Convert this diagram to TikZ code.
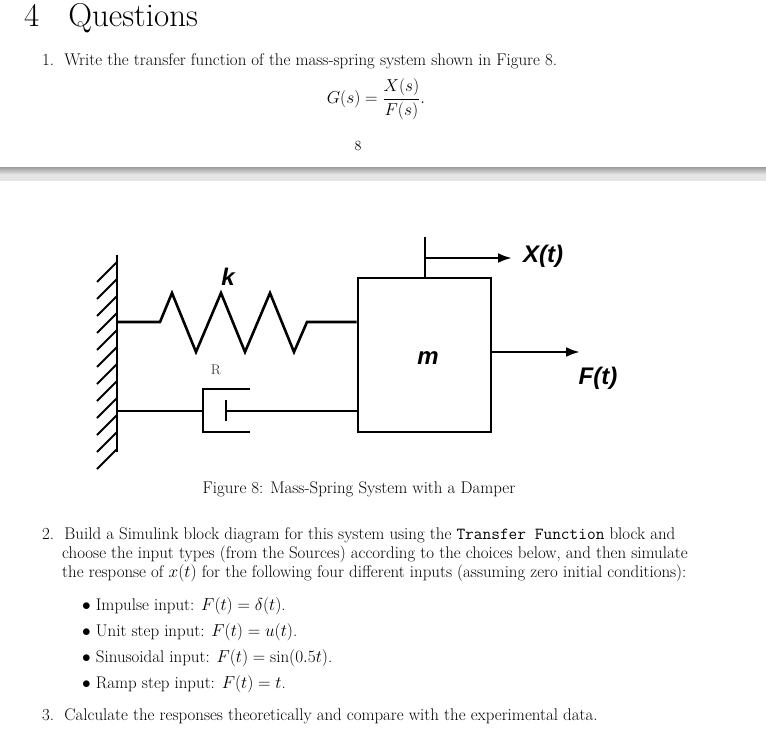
\documentclass[tikz,border=0pt]{standalone}
\usepackage{fontspec}
\usepackage{amsmath}
\newfontfamily\arialf{Liberation Sans}
\begin{document}
\begin{tikzpicture}[x=1pt,y=-1pt,
  txt/.style={anchor=west,inner sep=0pt,font=\fontsize{16.9}{18}\selectfont},
  lab/.style={inner sep=0pt,font=\arialf\bfseries\itshape\fontsize{24}{24}\selectfont},
  thk/.style={line width=2.6pt},
  arr/.style={thk,-{Latex[length=14pt,width=10pt]}}]
\useasboundingbox (0,0) rectangle (766,730);
\usetikzlibrary{arrows.meta}
\node[anchor=west,inner sep=0pt,font=\fontsize{33}{36}\selectfont] (h) at (24,18) {4\hspace{29pt}Questions};
\node[txt] (q1) at (42,61) {1.\ \ Write the transfer function of the mass-spring system shown in Figure 8.};
\node[inner sep=0pt,font=\fontsize{16.9}{18}\selectfont] (eq) at (376,99) {$G(s)=\dfrac{X(s)}{F(s)}.$};
\node[inner sep=0pt,font=\fontsize{14}{16}\selectfont] (pn) at (358,146) {8};
\shade[top color=gray!70,bottom color=gray!15] (0,168) rectangle (766,175);
\fill[gray!20] (0,175) rectangle (766,181);
% figure
\coordinate (w1) at (117,255); \coordinate (w2) at (117,452);
\draw[thk] (w1) -- (w2);
\foreach \y in {262,279,...,452} \draw[line width=1.8pt] (117,\y) -- (97,\y+20);
\node[draw,thk,minimum width=133pt,minimum height=154pt,inner sep=0pt] (m) at (424.5,355) {};
\node[lab] (ml) at (428,358) {m};
\draw[thk,line join=miter] (117,322) -- (160,322) -- (172,293) -- (196,352) -- (221,293) -- (245,352) -- (270,293) -- (294,352) -- (307,322) -- (m.west |- 0,322);
\node[lab] (kl) at (228,277) {k};
\draw[thk] (117,411) -- (203,411);
\draw[thk] (250,389) -- (203,389) -- (203,432) -- (250,432);
\draw[thk] (226,400) -- (226,421);
\draw[thk] (226,411) -- (m.west |- 0,411);
\node[inner sep=0pt,font=\fontsize{14}{16}\selectfont,text=black!75] (rl) at (216,370) {R};
\coordinate (xa) at (425,237);
\draw[thk] (xa) -- (m.north -| xa);
\coordinate (xb) at (512,258);
\draw[arr] (xa |- 0,258) -- (xb);
\node[lab] (xl) at (543,256) {X(t)};
\coordinate (fb) at (580,352);
\draw[arr] (m.east |- 0,352) -- (fb);
\node[lab] (fl) at (598,378) {F(t)};
\node[inner sep=0pt,font=\fontsize{16.9}{18}\selectfont] (cap) at (359,489) {Figure 8: Mass-Spring System with a Damper};
% question 2
\node[txt] (q2a) at (42,535) {2.\ \ Build a Simulink block diagram for this system using the \texttt{Transfer Function} block and};
\node[txt] (q2b) at (62,554) {choose the input types (from the Sources) according to the choices below, and then simulate};
\node[txt] (q2c) at (62,573) {the response of $x(t)$ for the following four different inputs (assuming zero initial conditions):};
\node[txt] (b1) at (82,606) {$\bullet$\ Impulse input: $F(t)=\delta(t)$.};
\node[txt] (b2) at (82,632) {$\bullet$\ Unit step input: $F(t)=u(t)$.};
\node[txt] (b3) at (82,658) {$\bullet$\ Sinusoidal input: $F(t)=\sin(0.5t)$.};
\node[txt] (b4) at (82,684) {$\bullet$\ Ramp step input: $F(t)=t$.};
\node[txt] (q3) at (42,716) {3.\ \ Calculate the responses theoretically and compare with the experimental data.};
\end{tikzpicture}
\end{document}
